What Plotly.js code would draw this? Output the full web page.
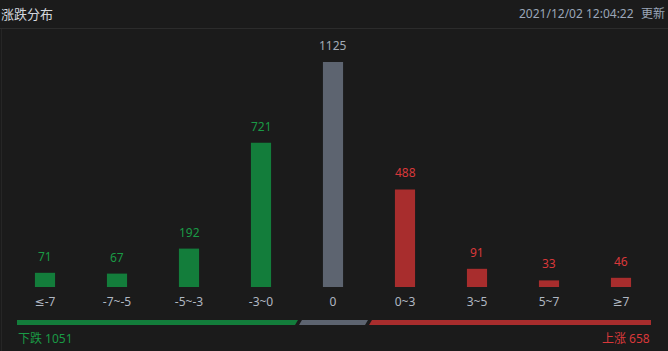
<!DOCTYPE html>
<html><head><meta charset="utf-8">
<script src="https://cdn.plot.ly/plotly-3.0.1.min.js"></script>
<style>html,body{margin:0;padding:0;background:#1b1b1b;}#chart{width:668px;height:351px;}</style>
</head><body><div id="chart"></div>
<script>
const categories = ['≤-7', '-7~-5', '-5~-3', '-3~0', '0', '0~3', '3~5', '5~7', '≥7'];
const counts = [71, 67, 192, 721, 1125, 488, 91, 33, 46];
const groups = ['down', 'down', 'down', 'down', 'flat', 'up', 'up', 'up', 'up'];
const downTotal = 1051;
const upTotal = 658;
const titleText = '涨跌分布';
const updateTime = '2021/12/02 12:04:22';
const updateLabel = '更新';

const barColor = {down: '#137d3b', flat: '#5d6470', up: '#a82d2d'};
const textColor = {down: '#1a9a45', flat: '#a3abb6', up: '#d9383a'};

const W = 668, H = 351;
const M = {l: 9, r: 11, t: 40, b: 64};
const PW = W - M.l - M.r, PH = H - M.t - M.b;
const px = x => (x - M.l) / PW;
const py = y => (H - M.b - y) / PH;
const FONT = 'Noto Sans, DejaVu Sans, Noto Sans CJK SC, sans-serif';

const trace = {
  type: 'bar', x: categories, y: counts,
  marker: {color: groups.map(g => barColor[g])},
  width: 0.28, hoverinfo: 'skip'
};

const annotations = categories.map((c, i) => ({
  x: i, y: counts[i], xref: 'x', yref: 'y', text: String(counts[i]),
  showarrow: false, yanchor: 'bottom', yshift: 6,
  font: {family: FONT, size: 12, color: textColor[groups[i]]}
}));
annotations.push(
  {xref: 'paper', yref: 'paper', x: px(-1), y: py(14), xanchor: 'left', yanchor: 'middle',
   text: titleText, showarrow: false, font: {family: FONT, size: 13, color: '#d4d8de'}},
  {xref: 'paper', yref: 'paper', x: px(517), y: py(14), xanchor: 'left', yanchor: 'middle',
   text: updateTime, showarrow: false, font: {family: FONT, size: 12, color: '#9aa6b8'}},
  {xref: 'paper', yref: 'paper', x: px(667), y: py(14), xanchor: 'right', yanchor: 'middle',
   text: updateLabel, showarrow: false, font: {family: FONT, size: 12, color: '#9aa6b8'}},
  {xref: 'paper', yref: 'paper', x: px(16), y: py(338), xanchor: 'left', yanchor: 'middle',
   text: '下跌 ' + downTotal, showarrow: false, font: {family: FONT, size: 12, color: '#1a9a45'}},
  {xref: 'paper', yref: 'paper', x: px(652), y: py(338), xanchor: 'right', yanchor: 'middle',
   text: '上涨 ' + upTotal, showarrow: false, font: {family: FONT, size: 12, color: '#d9383a'}}
);

function para(x0t, x1t, x0b, x1b, yt, yb) {
  return 'M' + px(x0b) + ',' + py(yb) + ' L' + px(x0t) + ',' + py(yt) + ' L' + px(x1t) + ',' + py(yt) +
         ' L' + px(x1b) + ',' + py(yb) + ' Z';
}
const shapes = [
  {type: 'line', xref: 'paper', yref: 'paper', x0: px(0), x1: px(668), y0: py(28.5), y1: py(28.5),
   line: {color: '#2c2c2c', width: 1}},
  {type: 'line', xref: 'paper', yref: 'paper', x0: px(1.5), x1: px(1.5), y0: py(29), y1: py(351),
   line: {color: '#262626', width: 1}},
  {type: 'path', xref: 'paper', yref: 'paper', path: para(17, 298, 17, 295, 320, 325),
   fillcolor: barColor.down, line: {width: 0}},
  {type: 'path', xref: 'paper', yref: 'paper', path: para(302, 368, 299, 365, 320, 325),
   fillcolor: barColor.flat, line: {width: 0}},
  {type: 'path', xref: 'paper', yref: 'paper', path: para(372, 651, 369, 651, 320, 325),
   fillcolor: barColor.up, line: {width: 0}}
];

const layout = {
  width: W, height: H, margin: M,
  paper_bgcolor: '#1b1b1b', plot_bgcolor: '#1b1b1b',
  showlegend: false,
  xaxis: {type: 'category', range: [-0.5, 8.5], showgrid: false, zeroline: false, showline: false,
          ticks: '', ticklabelstandoff: 6,
          tickfont: {family: FONT, size: 12, color: '#b0b7c2'}, fixedrange: true},
  yaxis: {range: [0, PH / 0.2], showgrid: false, zeroline: false, showline: false,
          showticklabels: false, fixedrange: true},
  annotations: annotations, shapes: shapes
};
Plotly.newPlot('chart', [trace], layout, {displayModeBar: false, staticPlot: true});
</script></body></html>
